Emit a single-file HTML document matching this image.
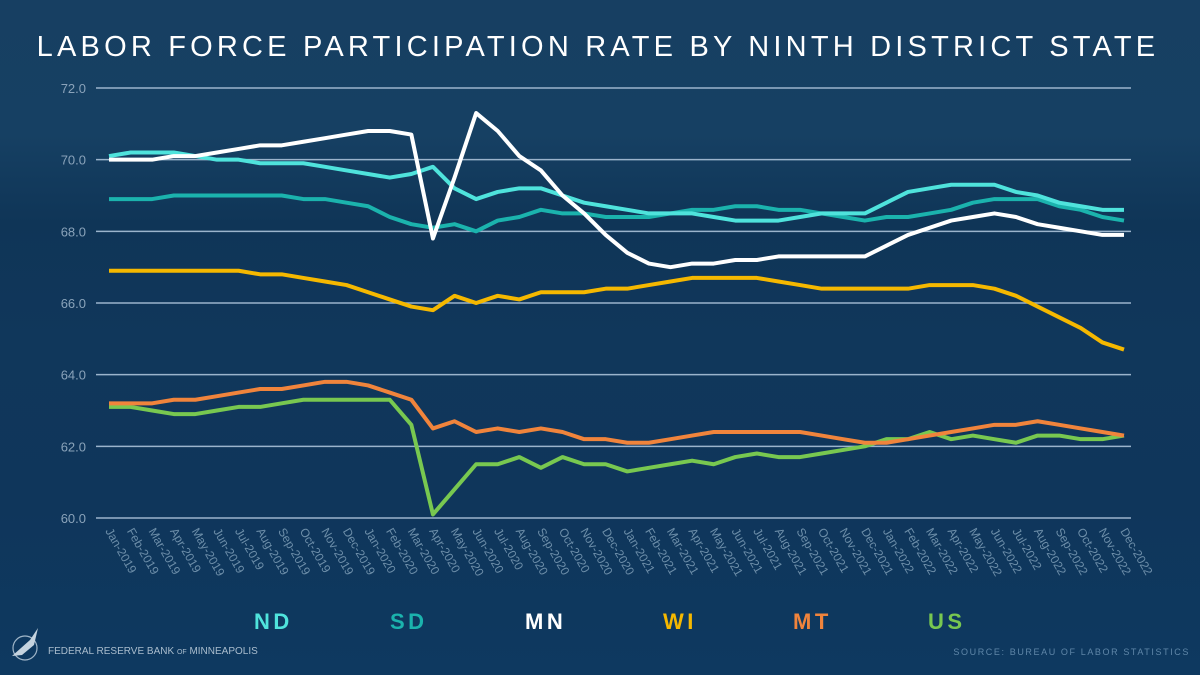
<!DOCTYPE html>
<html><head><meta charset="utf-8"><style>
html,body{margin:0;padding:0;background:#0f3a60;}
svg{display:block;font-family:"Liberation Sans",sans-serif;}
</style></head><body>
<svg width="1200" height="675" viewBox="0 0 1200 675">
<defs>
<linearGradient id="bg" x1="0" y1="0" x2="0" y2="1">
<stop offset="0" stop-color="#173f62"/><stop offset="0.2" stop-color="#164063"/>
<stop offset="0.33" stop-color="#0f3557"/><stop offset="0.5" stop-color="#10375b"/>
<stop offset="0.75" stop-color="#0f365b"/><stop offset="1" stop-color="#0e3960"/>
</linearGradient>
</defs>
<rect width="1200" height="675" fill="url(#bg)"/>
<text x="598" y="56" text-anchor="middle" fill="#ffffff" font-size="29" letter-spacing="4.2">LABOR FORCE PARTICIPATION RATE BY NINTH DISTRICT STATE</text>
<g id="grid"></g><g id="xlabels"></g><g id="lines"></g>
<g font-size="22" font-weight="bold" letter-spacing="3.5">
<text x="254" y="629" fill="#4fe3dc">ND</text>
<text x="390" y="629" fill="#1bb3ad">SD</text>
<text x="525" y="629" fill="#ffffff">MN</text>
<text x="663" y="629" fill="#f5b800">WI</text>
<text x="793" y="629" fill="#f0843c">MT</text>
<text x="928" y="629" fill="#78c850">US</text>
</g>
<g>
<circle cx="25" cy="648" r="12" fill="none" stroke="#9fb5c8" stroke-width="1.2"/>
<path d="M12 656 L30 640 L38 628 L34 645 L22 655 Z" fill="#c5d3df"/>
<text x="48" y="654" fill="#a9bccd" font-size="10">FEDERAL RESERVE BANK <tspan font-size="7">OF</tspan> MINNEAPOLIS</text>
</g>
<text x="1190" y="655" text-anchor="end" fill="#5f86a8" font-size="9" letter-spacing="1.6">SOURCE: BUREAU OF LABOR STATISTICS</text>
</svg>
<script>
const months=["Jan","Feb","Mar","Apr","May","Jun","Jul","Aug","Sep","Oct","Nov","Dec"];
const categories=[];
for(const y of [2019,2020,2021,2022]) for(const m of months) categories.push(m+"-"+y);
const yTicks=[60,62,64,66,68,70,72];
const seriesNames=["ND","SD","MN","WI","MT","US"];
const ND=[70.1,70.2,70.2,70.2,70.1,70.0,70.0,69.9,69.9,69.9,69.8,69.7,69.6,69.5,69.6,69.8,69.2,68.9,69.1,69.2,69.2,69.0,68.8,68.7,68.6,68.5,68.5,68.5,68.4,68.3,68.3,68.3,68.4,68.5,68.5,68.5,68.8,69.1,69.2,69.3,69.3,69.3,69.1,69.0,68.8,68.7,68.6,68.6];
const SD=[68.9,68.9,68.9,69.0,69.0,69.0,69.0,69.0,69.0,68.9,68.9,68.8,68.7,68.4,68.2,68.1,68.2,68.0,68.3,68.4,68.6,68.5,68.5,68.4,68.4,68.4,68.5,68.6,68.6,68.7,68.7,68.6,68.6,68.5,68.4,68.3,68.4,68.4,68.5,68.6,68.8,68.9,68.9,68.9,68.7,68.6,68.4,68.3];
const MN=[70.0,70.0,70.0,70.1,70.1,70.2,70.3,70.4,70.4,70.5,70.6,70.7,70.8,70.8,70.7,67.8,69.5,71.3,70.8,70.1,69.7,69.0,68.5,67.9,67.4,67.1,67.0,67.1,67.1,67.2,67.2,67.3,67.3,67.3,67.3,67.3,67.6,67.9,68.1,68.3,68.4,68.5,68.4,68.2,68.1,68.0,67.9,67.9];
const WI=[66.9,66.9,66.9,66.9,66.9,66.9,66.9,66.8,66.8,66.7,66.6,66.5,66.3,66.1,65.9,65.8,66.2,66.0,66.2,66.1,66.3,66.3,66.3,66.4,66.4,66.5,66.6,66.7,66.7,66.7,66.7,66.6,66.5,66.4,66.4,66.4,66.4,66.4,66.5,66.5,66.5,66.4,66.2,65.9,65.6,65.3,64.9,64.7];
const MT=[63.2,63.2,63.2,63.3,63.3,63.4,63.5,63.6,63.6,63.7,63.8,63.8,63.7,63.5,63.3,62.5,62.7,62.4,62.5,62.4,62.5,62.4,62.2,62.2,62.1,62.1,62.2,62.3,62.4,62.4,62.4,62.4,62.4,62.3,62.2,62.1,62.1,62.2,62.3,62.4,62.5,62.6,62.6,62.7,62.6,62.5,62.4,62.3];
const US=[63.1,63.1,63.0,62.9,62.9,63.0,63.1,63.1,63.2,63.3,63.3,63.3,63.3,63.3,62.6,60.1,60.8,61.5,61.5,61.7,61.4,61.7,61.5,61.5,61.3,61.4,61.5,61.6,61.5,61.7,61.8,61.7,61.7,61.8,61.9,62.0,62.2,62.2,62.4,62.2,62.3,62.2,62.1,62.3,62.3,62.2,62.2,62.3];
const NS="http://www.w3.org/2000/svg";
const x0=109,x1=1124,y60=518,y72=88,gx0=96,gx1=1131;
const xs=i=>x0+(x1-x0)*i/(categories.length-1);
const ys=v=>y60+(v-60)*(y72-y60)/12;
function mk(t,a,p){const e=document.createElementNS(NS,t);for(const k in a)e.setAttribute(k,a[k]);p.appendChild(e);return e;}
const grid=document.getElementById('grid');
yTicks.forEach(t=>{
  const l=mk('line',{x1:gx0,x2:gx1,y1:ys(t),y2:ys(t),stroke:'#9bb4cc','stroke-width':1.5},grid);
  
  
  const tx=mk('text',{x:86,y:ys(t)+5,'text-anchor':'end',fill:'#8aa3ba','font-size':13},grid);
  tx.textContent=t.toFixed(1);
  
  
});
const xl=document.getElementById('xlabels');
categories.forEach((c,i)=>{
  const x=xs(i)-4,y=531;
  const t=mk('text',{x:x,y:y,transform:`rotate(60 ${x} ${y})`,fill:'#6d8ea9','font-size':12},xl);
  t.textContent=c;
  
  
});
const lines=document.getElementById('lines');
const series=[[SD,'#1bb3ad','sd'],[ND,'#4fe3dc','nd'],[WI,'#f5b800','wi'],[US,'#78c850','us'],[MT,'#f0843c','mt'],[MN,'#ffffff','mn']];
series.forEach(([d,c,n])=>{
  const p=mk('polyline',{points:d.map((v,i)=>xs(i)+','+ys(v)).join(' '),fill:'none',stroke:c,'stroke-width':4,'stroke-linejoin':'round'},lines);
  
  
});
</script>
</body></html>
